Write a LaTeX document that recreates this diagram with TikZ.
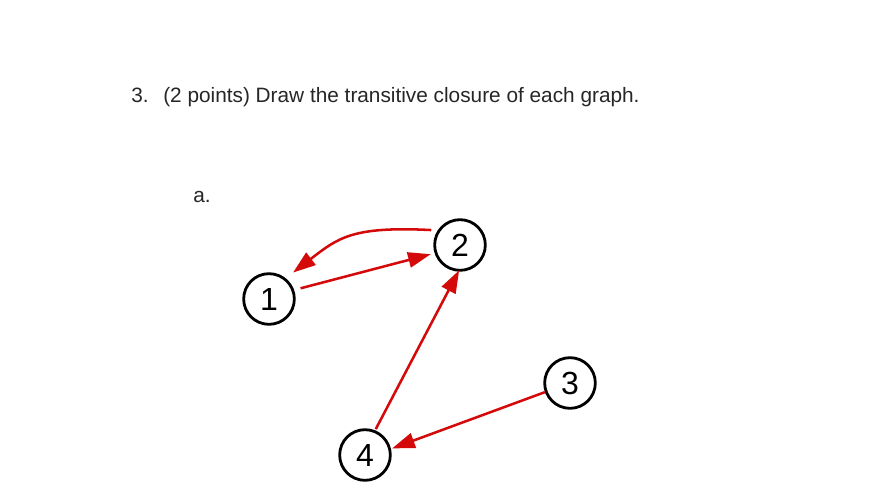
\documentclass[tikz,border=0pt]{standalone}
\usepackage{fontspec}
\setmainfont{Liberation Sans}
\usetikzlibrary{arrows.meta}
\definecolor{edgered}{RGB}{212,10,10}
\tikzset{
  vert/.style={draw, circle, line width=2.1pt, minimum size=38pt, inner sep=0pt, outer sep=0pt, font=\fontsize{24}{24}\selectfont},
  edge/.style={draw=edgered, line width=1.9pt, -{Triangle[length=17pt,width=11.5pt]}},
  txt/.style={anchor=base west, inner sep=0pt, font=\fontsize{15.6}{18}\selectfont, text=black!85}
}
\begin{document}
\begin{tikzpicture}[x=0.75pt, y=-0.75pt]
        \useasboundingbox (0,0) rectangle (879,492);
        \node[txt] (num) at (131,103) {3.};
        \node[txt] (task) at (163,103) {(2 points) Draw the transitive closure of each graph.};
        \node[txt] (part) at (193,202) {a.};
        \node[vert] (n1) at (269,299) {1};
        \node[vert] (n2) at (460,245) {2};
        \node[vert] (n3) at (570,383) {3};
        \node[vert] (n4) at (365,455) {4};
        \draw[edge, shorten <=6pt, shorten >=4pt] (n1.20)--(n2.198);
        \draw[edge, shorten <=6pt, shorten >=8pt] (n2.145) .. controls (352,226) and (338,238) .. (n1.52);
        \draw[edge, shorten <=2pt] (n4.68)--(n2.268);
        \draw[edge, shorten <=1pt, shorten >=2pt] (n3.200)--(n4.13);
\end{tikzpicture}
\end{document}
